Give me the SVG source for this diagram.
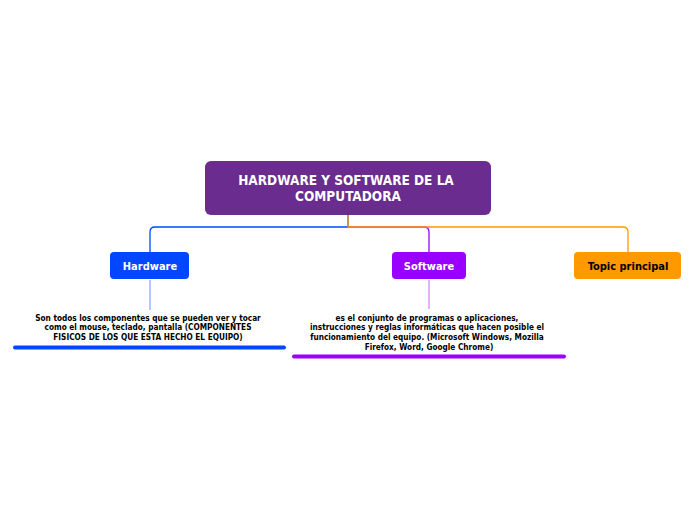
<svg xmlns="http://www.w3.org/2000/svg" width="696" height="520" viewBox="0 0 696 520">
<style>
text{font-family:"DejaVu Sans Condensed","DejaVu Sans",sans-serif;font-weight:bold;text-anchor:middle}
.t{font-size:8.2px;fill:#000}
.n{font-size:11px;fill:#fff}
line,path{fill:none}
</style>
<rect width="696" height="520" fill="#fff"/>
<g id="connectors">
<path d="M348,215 V227 H155 Q150,227 150,232 V252" stroke="#0047ff" stroke-width="1.3"/>
<path d="M348,227 H424 Q429,227 429,232 V252" stroke="#9a00ff" stroke-width="1.3"/>
<path d="M348,215 V227 H623 Q628,227 628,232 V252" stroke="#ff9900" stroke-width="1.3"/>
<line x1="150" y1="280" x2="150" y2="310" stroke="#0047ff" stroke-width="0.6"/>
<line x1="429" y1="280" x2="429" y2="309" stroke="#9a00ff" stroke-width="0.6"/>
</g>
<g id="root">
<rect x="205" y="161" width="286" height="54" rx="6" fill="#6a2c8e"/>
<text class="n" style="font-size:13.5px" x="346" y="185">HARDWARE Y SOFTWARE DE LA</text>
<text class="n" style="font-size:13.5px" x="348" y="201">COMPUTADORA</text>
</g>
<g id="hardware">
<rect x="110" y="252" width="79" height="27" rx="4" fill="#0047ff"/>
<text class="n" x="150" y="270">Hardware</text>
</g>
<g id="software">
<rect x="392" y="252" width="74" height="27" rx="4" fill="#9a00ff"/>
<text class="n" x="429" y="270">Software</text>
</g>
<g id="topic">
<rect x="574" y="252" width="107" height="27" rx="4" fill="#ff9900"/>
<text class="n" x="628" y="270" style="fill:#000">Topic principal</text>
</g>
<g id="hardware-desc">
<text class="t" x="148" y="321">Son todos los componentes que se pueden ver y tocar</text>
<text class="t" x="148" y="330">como el mouse, teclado, pantalla (COMPONENTES</text>
<text class="t" x="148" y="340">FISICOS DE LOS QUE ESTA HECHO EL EQUIPO)</text>
<line x1="15" y1="347.5" x2="284" y2="347.5" stroke="#0047ff" stroke-width="4" stroke-linecap="round"/>
</g>
<g id="software-desc">
<text class="t" x="427" y="321">es el conjunto de programas o aplicaciones,</text>
<text class="t" x="427" y="330">instrucciones y reglas informáticas que hacen posible el</text>
<text class="t" x="427" y="340">funcionamiento del equipo. (Microsoft Windows, Mozilla</text>
<text class="t" x="429" y="350">Firefox, Word, Google Chrome)</text>
<line x1="294" y1="356.5" x2="564" y2="356.5" stroke="#9a00ff" stroke-width="4" stroke-linecap="round"/>
</g>
</svg>
